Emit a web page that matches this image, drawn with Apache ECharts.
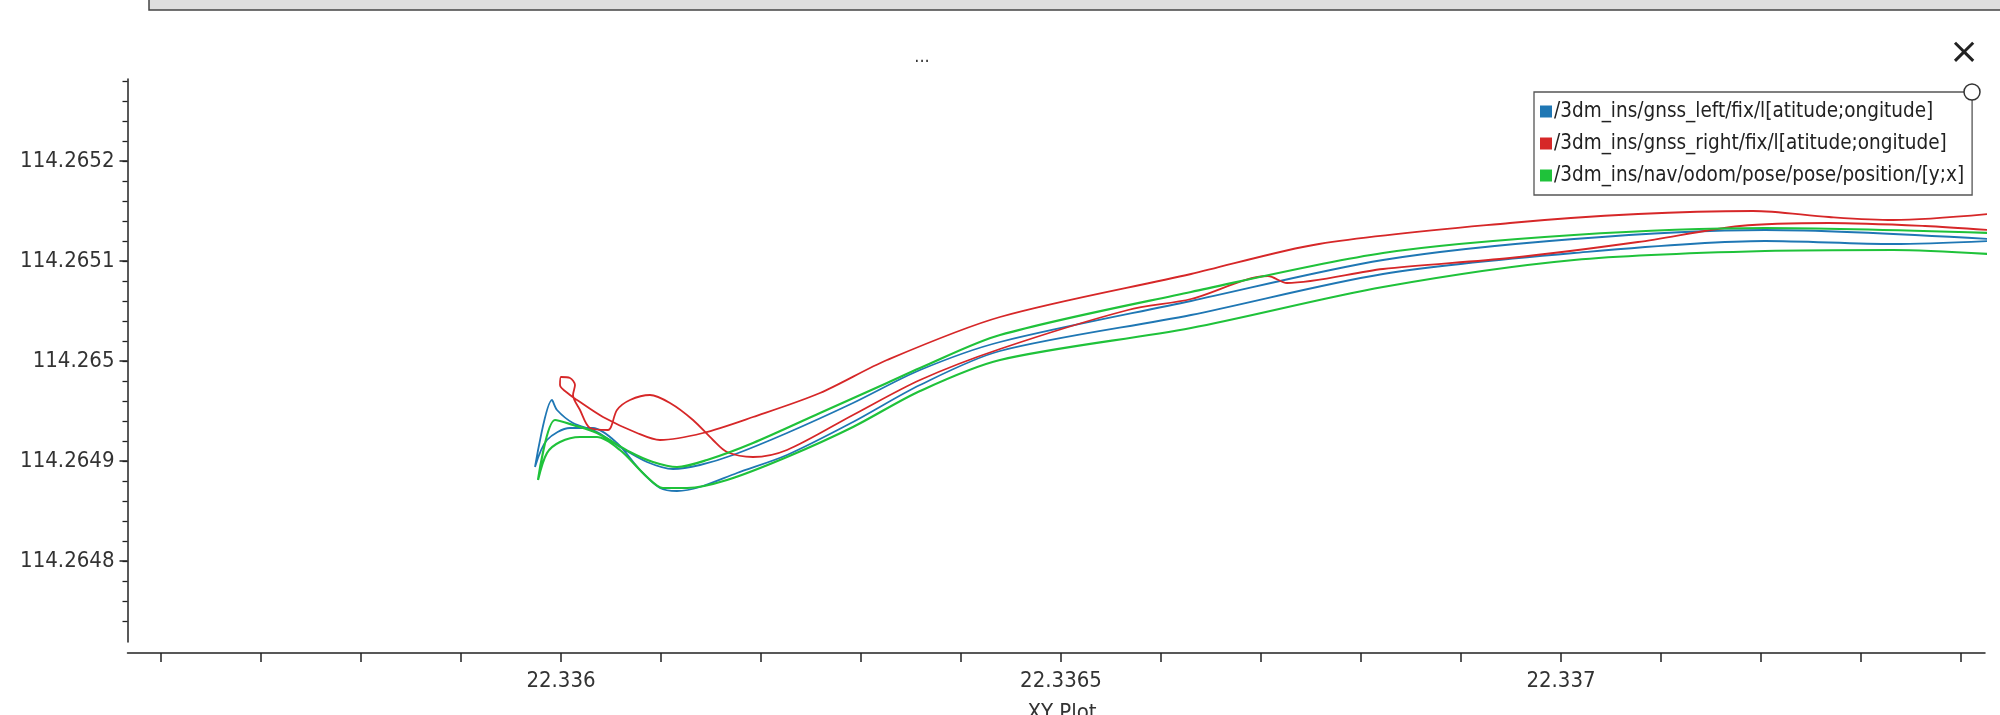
<!DOCTYPE html>
<html>
<head>
<meta charset="utf-8">
<script src="https://cdn.jsdelivr.net/npm/echarts@6/dist/echarts.min.js"></script>
<style>
  html, body { margin: 0; padding: 0; background: #fff; }
  #chart { width: 2000px; height: 715px; }
</style>
</head>
<body>
<div id="chart"></div>
<script>
// gnss_left: out along one side, back along the other
var blueX = [22.337427, 22.337204, 22.337013, 22.336822, 22.33663, 22.336439, 22.336359, 22.336292, 22.336226, 22.336172, 22.336139, 22.336112, 22.336086, 22.336059, 22.336036, 22.336012, 22.335996, 22.335991, 22.335974,
  22.335986, 22.336009, 22.336032, 22.336056, 22.336079, 22.336099, 22.336116, 22.336139, 22.336176, 22.336226, 22.336292, 22.336359, 22.336439, 22.33663, 22.336822, 22.337013, 22.337204, 22.337332, 22.337427];
var blueY = [114.265122, 114.265131, 114.265122, 114.265101, 114.26506, 114.265019, 114.264991, 114.264958, 114.264928, 114.264906, 114.264896, 114.264892, 114.264899, 114.264914, 114.264929, 114.264938, 114.264951, 114.264961, 114.264894,
  114.264921, 114.264933, 114.264933, 114.264918, 114.264891, 114.264873, 114.26487, 114.264874, 114.264888, 114.264906, 114.264939, 114.264976, 114.26501, 114.265046, 114.265087, 114.265108, 114.26512, 114.265117, 114.26512];

var redX = [22.337427, 22.337332, 22.337268, 22.337192, 22.337077, 22.336949, 22.336758, 22.33663, 22.336439, 22.336326, 22.336259, 22.336192, 22.336142, 22.336099, 22.336076, 22.336042, 22.336016, 22.336009, 22.335999, 22.336, 22.336009, 22.336014, 22.336012, 22.336019, 22.336029, 22.336047, 22.336056, 22.336069, 22.336089, 22.336109, 22.336132, 22.336152, 22.336166, 22.336192, 22.336226, 22.336292, 22.336359, 22.336439, 22.336567, 22.33663, 22.336707, 22.336726, 22.336822, 22.336949, 22.337077, 22.337179, 22.337268, 22.337364, 22.337427];
var redY = [114.265147, 114.265141, 114.265144, 114.26515, 114.265147, 114.265138, 114.265117, 114.265087, 114.265044, 114.265001, 114.264968, 114.264944, 114.264928, 114.264921, 114.264928, 114.264944, 114.264961, 114.264966, 114.264976, 114.264984, 114.264983, 114.264976, 114.264966, 114.264951, 114.264933, 114.264931, 114.264951, 114.264961, 114.264966, 114.264958, 114.264941, 114.264921, 114.264909, 114.264904, 114.264911, 114.264946, 114.264981, 114.265012, 114.265051, 114.265062, 114.265085, 114.265078, 114.265092, 114.265103, 114.265119, 114.265135, 114.265138, 114.265135, 114.265131];

var greenX = [22.337427, 22.337204, 22.337013, 22.336822, 22.33663, 22.336439, 22.336359, 22.336326, 22.336259, 22.336192, 22.336146, 22.336116, 22.336092, 22.336069, 22.336036, 22.336012, 22.335994, 22.335977,
  22.335986, 22.335999, 22.336019, 22.336036, 22.336059, 22.336086, 22.336102, 22.336126, 22.336166, 22.336226, 22.336292, 22.336359, 22.336439, 22.33663, 22.336822, 22.337013, 22.337204, 22.337332, 22.337427];
var greenY = [114.265128, 114.265133, 114.265126, 114.265108, 114.265069, 114.265026, 114.264993, 114.264978, 114.264948, 114.264918, 114.264901, 114.264894, 114.264899, 114.264909, 114.264928, 114.264936, 114.264941, 114.264881,
  114.264908, 114.264919, 114.264924, 114.264924, 114.264911, 114.264884, 114.264873, 114.264873, 114.264881, 114.264904, 114.264934, 114.26497, 114.265001, 114.265033, 114.265074, 114.265101, 114.26511, 114.265111, 114.265107];

var seriesNames = ['/3dm_ins/gnss_left/fix/l[atitude;ongitude]', '/3dm_ins/gnss_right/fix/l[atitude;ongitude]', '/3dm_ins/nav/odom/pose/pose/position/[y;x]'];
var colors = ['#1f77b4', '#d62728', '#1fc23a'];

var xLabels = [22.336, 22.3365, 22.337];
var xTicks = [22.3356, 22.3357, 22.3358, 22.3359, 22.336, 22.3361, 22.3362, 22.3363, 22.3364, 22.3365, 22.3366, 22.3367, 22.3368, 22.3369, 22.337, 22.3371, 22.3372, 22.3373, 22.3374];
var yLabels = [114.2648, 114.2649, 114.265, 114.2651, 114.2652];
var yMinor = [];
for (var i = 0; i <= 27; i++) yMinor.push(+(114.26474 + i * 0.00002).toFixed(5));

function zip(xs, ys) { return xs.map(function (x, i) { return [x, ys[i]]; }); }
function fmt(v) { return String(+(+v).toFixed(4)); }

var font = "'DejaVu Sans Condensed', 'Liberation Sans Narrow', sans-serif";
var xMin = 22.3355665, xMax = 22.337424, yMin = 114.264719, yMax = 114.265282;

var chart = echarts.init(document.getElementById('chart'));
chart.setOption({
  animation: false,
  backgroundColor: '#fff',
  grid: { left: 127.5, right: 15, top: 79, bottom: 73 },
  legend: {
    data: seriesNames.map(function (n) { return { name: n, icon: 'rect' }; }),
    orient: 'vertical', left: 1534, top: 92,
    itemWidth: 12, itemHeight: 12, itemGap: 11,
    padding: [9, 8, 9, 6],
    backgroundColor: '#fff', borderColor: '#555', borderWidth: 1.3,
    textStyle: { fontFamily: font, fontSize: 20.5, color: '#222', padding: [0, 0, 0, -3] }
  },
  xAxis: {
    type: 'value', min: xMin, max: xMax, offset: 11,
    axisLine: { show: true, onZero: false, lineStyle: { color: '#222', width: 1.5 } },
    axisTick: { show: true, customValues: xTicks, length: 9, lineStyle: { color: '#222', width: 1.5 } },
    axisLabel: { customValues: xLabels, formatter: fmt, margin: 17, fontFamily: font, fontSize: 22, color: '#333' },
    splitLine: { show: false }
  },
  yAxis: [{
    type: 'value', min: yMin, max: yMax,
    axisLine: { show: true, onZero: false, lineStyle: { color: '#222', width: 1.5 } },
    axisTick: { show: true, customValues: yLabels, length: 8, lineStyle: { color: '#222', width: 1.5 } },
    axisLabel: { customValues: yLabels, formatter: fmt, margin: 13, fontFamily: font, fontSize: 22, color: '#333' },
    splitLine: { show: false }
  }, {
    type: 'value', min: yMin, max: yMax, position: 'left',
    axisLine: { show: false },
    axisTick: { show: true, customValues: yMinor, length: 5, lineStyle: { color: '#222', width: 1.3 } },
    axisLabel: { show: false },
    splitLine: { show: false }
  }],
  series: [
    { name: seriesNames[0], type: 'line', data: zip(blueX, blueY), smooth: 0.3, showSymbol: false, lineStyle: { width: 1.8, color: colors[0] }, itemStyle: { color: colors[0] } },
    { name: seriesNames[1], type: 'line', data: zip(redX, redY), smooth: 0.3, showSymbol: false, lineStyle: { width: 1.8, color: colors[1] }, itemStyle: { color: colors[1] } },
    { name: seriesNames[2], type: 'line', data: zip(greenX, greenY), smooth: 0.3, showSymbol: false, lineStyle: { width: 2.2, color: colors[2] }, itemStyle: { color: colors[2] } }
  ],
  graphic: [
    { type: 'rect', shape: { x: 149, y: -3, width: 1860, height: 13 }, style: { fill: '#dedede', stroke: '#444', lineWidth: 1.5 } },
    { type: 'text', x: 922, y: 57, style: { text: '...', fontFamily: font, fontSize: 18, fill: '#333', align: 'center', verticalAlign: 'middle' } },
    { type: 'text', x: 1964, y: 54, style: { text: '×', fontFamily: 'DejaVu Sans', fontSize: 36, fill: '#222', align: 'center', verticalAlign: 'middle' } },
    { type: 'circle', shape: { cx: 1972, cy: 92, r: 8 }, style: { fill: '#fff', stroke: '#333', lineWidth: 1.5 }, z: 100 },
    { type: 'text', x: 1062, y: 713, style: { text: 'XY Plot', fontFamily: font, fontSize: 22, fill: '#333', align: 'center', verticalAlign: 'middle' } }
  ]
});
</script>
</body>
</html>
